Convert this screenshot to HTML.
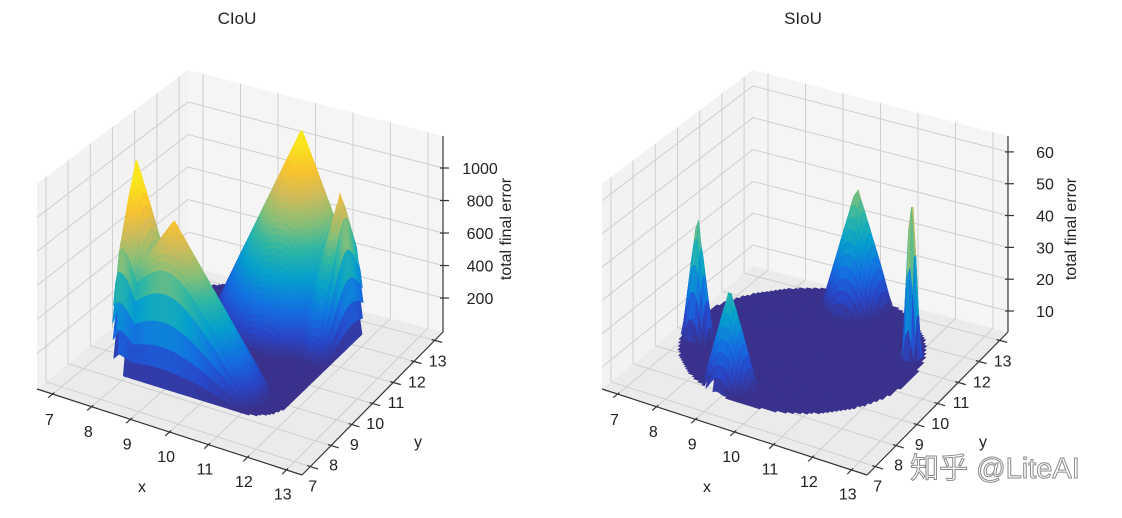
<!DOCTYPE html>
<html><head><meta charset="utf-8"><style>
html,body{margin:0;padding:0;background:#fff;}
svg{display:block;font-family:"Liberation Sans","Noto Sans CJK SC",sans-serif;}
</style></head><body>
<svg id="chart" width="1122" height="518" viewBox="0 0 1122 518" xmlns="http://www.w3.org/2000/svg">
<defs><clipPath id="rclip"><rect x="1040" y="176" width="80" height="200"/></clipPath></defs>
<text x="237" y="24" text-anchor="middle" font-size="17" fill="#222">CIoU</text>
<text x="803" y="24" text-anchor="middle" font-size="17" fill="#222">SIoU</text>
<g id="left"></g>
<g id="right"></g>
<text x="995" y="478" text-anchor="middle" font-size="29" fill="#fff" stroke="#8a8a8a" stroke-width="1">知乎 @LiteAI</text>
</svg>
<script>
// ---- data ----
const xTicks=[7,8,9,10,11,12,13];
const yTicks=[7,8,9,10,11,12,13];
const leftZTicks=[200,400,600,800,1000];
const rightZTicks=[10,20,30,40,50,60];
const leftPeakX=[7.8,8.95,10.1,11.45];
const leftPeakY=[9.0,8.7,12.6,12.0];
const leftPeakH=[1180,920,1120,880];
const leftPeakRX=[1.0,2.4,2.0,0.8];
const leftPeakRY=[1.7,1.3,2.2,1.4];
const leftBase=20;
const leftRect=[7.45,11.85,8.0,12.9,0.8];
const rightPeakX=[7.22,8.9,9.66,11.94];
const rightPeakY=[9.83,8.36,12.9,11.42];
const rightPeakH=[38,29,37,57];
const rightPeakRX=[0.35,0.6,0.8,0.22];
const rightPeakRY=[0.35,0.6,0.8,0.22];
const rightBase=4;
const rightDisk=[9.6,10.5,2.8];

const NS="http://www.w3.org/2000/svg";
const stops=[[0,[58,50,140]],[0.1,[40,70,200]],[0.22,[20,110,225]],[0.37,[6,160,205]],[0.5,[46,183,164]],[0.62,[135,191,119]],[0.75,[209,187,89]],[0.87,[250,195,45]],[1,[249,230,30]]];
function cmap(t){t=Math.max(0,Math.min(1,t));for(let i=1;i<stops.length;i++){if(t<=stops[i][0]){const a=stops[i-1],b=stops[i];const f=(t-a[0])/(b[0]-a[0]);const c=a[1].map((v,k)=>Math.round(v+(b[1][k]-v)*f));return `rgb(${c[0]},${c[1]},${c[2]})`;}}return 'rgb(249,230,30)';}
function mk(tag,attrs,parent){const e=document.createElementNS(NS,tag);for(const k in attrs)e.setAttribute(k,attrs[k]);parent.appendChild(e);return e;}

function panel(g,off,zmin,zmax,zTicks,px,py,ph,prx,pry,base,inside,edgeDist,fadeW,bounds,vmax){
  const A=[37+off,389],B=[302+off,475],C=[443+off,332],D=[188+off,266];
  const HA=205,HB=202,HC=196,HD=196,lo=6.6,span=6.8;
  function P(x,y,z){const u=(x-lo)/span,v=(y-lo)/span;
    const w=[(1-u)*(1-v),u*(1-v),u*v,(1-u)*v];
    const sx=w[0]*A[0]+w[1]*B[0]+w[2]*C[0]+w[3]*D[0];
    const sy=w[0]*A[1]+w[1]*B[1]+w[2]*C[1]+w[3]*D[1];
    const H=w[0]*HA+w[1]*HB+w[2]*HC+w[3]*HD;
    return [sx,sy-(z-zmin)/(zmax-zmin)*H];}
  const pts=a=>a.map(p=>p[0].toFixed(1)+','+p[1].toFixed(1)).join(' ');
  const x0=lo,x1=lo+span,y0=lo,y1=lo+span;
  let e=mk('polygon',{points:pts([P(x0,y0,zmin),P(x1,y0,zmin),P(x1,y1,zmin),P(x0,y1,zmin)]),fill:'#ebebeb',stroke:'none'},g);
  
  e=mk('polygon',{points:pts([P(x0,y0,zmin),P(x0,y1,zmin),P(x0,y1,zmax),P(x0,y0,zmax)]),fill:'#f2f2f2',stroke:'none'},g);
  
  e=mk('polygon',{points:pts([P(x0,y1,zmin),P(x1,y1,zmin),P(x1,y1,zmax),P(x0,y1,zmax)]),fill:'#f5f5f5',stroke:'none'},g);
  
  const gs={stroke:'#cfcfcf','stroke-width':1,fill:'none'};
  xTicks.forEach(t=>{
    e=mk('polyline',Object.assign({points:pts([P(t,y0,zmin),P(t,y1,zmin),P(t,y1,zmax)])},gs),g);
    });
  yTicks.forEach(t=>{
    e=mk('polyline',Object.assign({points:pts([P(x1,t,zmin),P(x0,t,zmin),P(x0,t,zmax)])},gs),g);
    });
  zTicks.forEach(t=>{
    e=mk('polyline',Object.assign({points:pts([P(x0,y0,t),P(x0,y1,t),P(x1,y1,t)])},gs),g);
    });
  const ax={stroke:'#333','stroke-width':1.2,fill:'none'};
  e=mk('polyline',Object.assign({points:pts([P(x0,y0,zmin),P(x1,y0,zmin)])},ax),g);
  
  e=mk('polyline',Object.assign({points:pts([P(x1,y0,zmin),P(x1,y1,zmin)])},ax),g);
  
  e=mk('polyline',Object.assign({points:pts([P(x1,y1,zmin),P(x1,y1,zmax)])},ax),g);
  
  xTicks.forEach(t=>{const a=P(t,y0+0.08,zmin),b=P(t,y0-0.2,zmin);
    e=mk('line',{x1:a[0],y1:a[1],x2:b[0],y2:b[1],stroke:'#333','stroke-width':1.2},g);
    
    const p=P(t,y0+0.4,zmin);
    e=mk('text',{x:p[0]-12,y:p[1]+38,'text-anchor':'middle','font-size':16,fill:'#222'},g);e.textContent=t;
    });
  yTicks.forEach(t=>{const a=P(x1-0.08,t,zmin),b=P(x1+0.2,t,zmin);
    e=mk('line',{x1:a[0],y1:a[1],x2:b[0],y2:b[1],stroke:'#333','stroke-width':1.2},g);
    
    const p=P(x1-0.4,t,zmin);
    e=mk('text',{x:p[0]+18,y:p[1]+30,'text-anchor':'middle','font-size':16,fill:'#222'},g);e.textContent=t;
    });
  zTicks.forEach(t=>{const p=P(x1,y1,t);
    e=mk('line',{x1:p[0]-3,y1:p[1],x2:p[0]+6,y2:p[1],stroke:'#333','stroke-width':1.2},g);
    
    e=mk('text',{x:p[0]+37,y:p[1]+6,'text-anchor':'middle','font-size':16,fill:'#222'},g);e.textContent=t;
    });
  e=mk('text',{x:142+off,y:492,'text-anchor':'middle','font-size':16,fill:'#222'},g);e.textContent='x';
  
  e=mk('text',{x:418+off,y:447,'text-anchor':'middle','font-size':16,fill:'#222'},g);e.textContent='y';
  
  const zx=443+off+68;
  const tg=mk('g',{},g);
  if(off>0)tg.setAttribute('clip-path','url(#rclip)');
  e=mk('text',{x:zx,y:229,'text-anchor':'middle','font-size':16,fill:'#222',transform:`rotate(-90 ${zx} 229)`},tg);e.textContent='total final error';
  
  function Z(x,y){let m=0;for(let i=0;i<px.length;i++){const d=Math.hypot((x-px[i])/prx[i],(y-py[i])/pry[i]);m=Math.max(m,ph[i]*Math.max(0,1-d));}
    if(fadeW>0)m*=Math.max(0,Math.min(1,edgeDist(x,y)/fadeW));
    return base+m;}
  const N=76,quads=[],[bx0,bx1,by0,by1]=bounds;
  for(let i=0;i<N;i++)for(let j=0;j<N;j++){
    const xa=bx0+(bx1-bx0)*i/N,xb=bx0+(bx1-bx0)*(i+1)/N;
    const ya=by0+(by1-by0)*j/N,yb=by0+(by1-by0)*(j+1)/N;
    if(!inside((xa+xb)/2,(ya+yb)/2))continue;
    const c=[[xa,ya],[xb,ya],[xb,yb],[xa,yb]].map(q=>[q[0],q[1],Z(q[0],q[1])]);
    const zm=(c[0][2]+c[1][2]+c[2][2]+c[3][2])/4;
    quads.push({k:(xa+xb)/2-(ya+yb)/2,c:c,zm:zm});}
  quads.sort((a,b)=>a.k-b.k);
  const sg=mk('g',{},g);
  
  quads.forEach(q=>{const col=cmap((q.zm-base)/(vmax-base));
    mk('polygon',{points:pts(q.c.map(p=>P(p[0],p[1],p[2]))),fill:col,stroke:col,'stroke-width':0.6},sg);});
}
function inRect(x,y){const [a,b,c,d,r]=leftRect;
  if(x<a||x>b||y<c||y>d)return false;
  const qx=Math.max(a+r-x,0,x-(b-r)),qy=Math.max(c+r-y,0,y-(d-r));
  return Math.hypot(qx,qy)<=r;}
function rectEdge(x,y){const [a,b,c,d]=leftRect;return Math.min(x-a,b-x,y-c,d-y);}
panel(document.getElementById('left'),0,-9,1197,leftZTicks,leftPeakX,leftPeakY,leftPeakH,leftPeakRX,leftPeakRY,leftBase,
  inRect,rectEdge,0.3,[leftRect[0],leftRect[1],leftRect[2],leftRect[3]],1060);
panel(document.getElementById('right'),565,3.4,65,rightZTicks,rightPeakX,rightPeakY,rightPeakH,rightPeakRX,rightPeakRY,rightBase,
  (x,y)=>Math.hypot(x-rightDisk[0],y-rightDisk[1])<=rightDisk[2],null,0,
  [rightDisk[0]-rightDisk[2],rightDisk[0]+rightDisk[2],rightDisk[1]-rightDisk[2],rightDisk[1]+rightDisk[2]],60);
</script>
</body></html>
